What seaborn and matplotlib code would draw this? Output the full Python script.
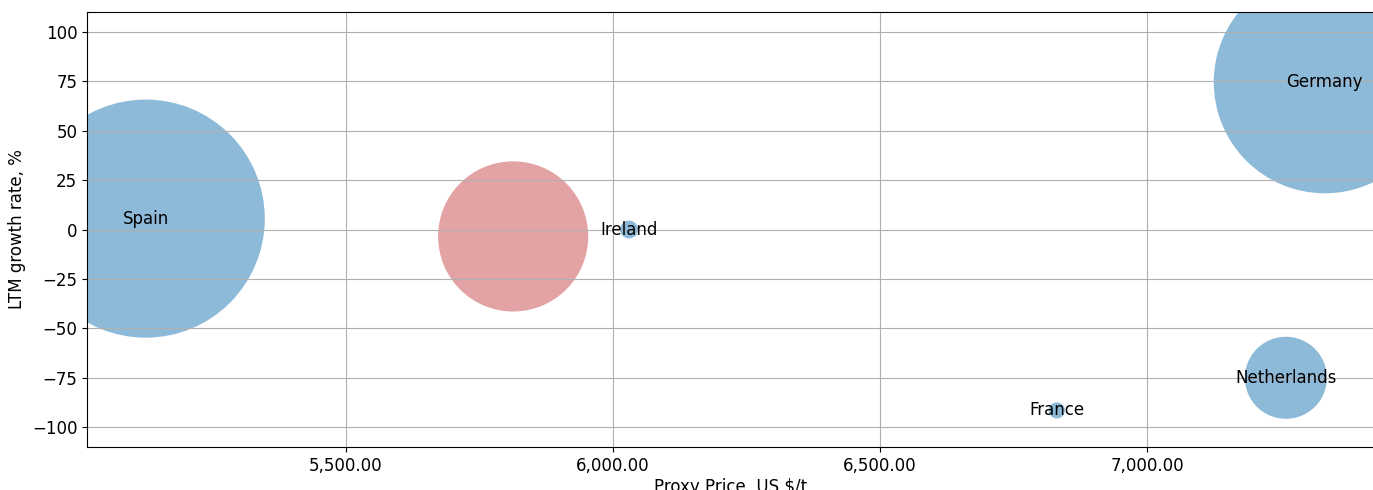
import matplotlib
matplotlib.use("Agg")
import matplotlib.pyplot as plt
import matplotlib.ticker as mticker
import seaborn as sns
import pandas as pd

# values
countries = ["Spain", "", "Ireland", "France", "Netherlands", "Germany"]
proxy_price = [5125, 5813, 6030, 6831, 7260, 7333]
growth_rate = [5.5, -3.5, 0.0, -91.5, -75.0, 74.5]
volume = [5660, 2250, 32, 26, 672, 4930]
group = ["partner", "focus", "partner", "partner", "partner", "partner"]

df = pd.DataFrame({
    "country": countries,
    "price": proxy_price,
    "growth": growth_rate,
    "volume": volume,
    "group": group,
})

fig = plt.figure(figsize=(13.73, 4.9), dpi=100)
ax = fig.add_axes([87 / 1373, 43 / 490, 1287 / 1373, 435 / 490])

sns.scatterplot(
    data=df, x="price", y="growth", hue="group", size="volume",
    palette={"partner": "#1f77b4", "focus": "#c9474a"},
    sizes=(0, 29400), size_norm=(0, 5660),
    alpha=0.5, linewidth=0, legend=False, ax=ax,
)

for _, row in df.iterrows():
    if row["country"]:
        ax.text(row["price"], row["growth"], row["country"],
                ha="center", va="center", fontsize=12)

ax.set_xlim(5015, 7425)
ax.set_ylim(-110, 110)
ax.set_xticks([5500, 6000, 6500, 7000])
ax.xaxis.set_major_formatter(mticker.FuncFormatter(lambda v, p: f"{v:,.2f}"))
ax.set_yticks(range(-100, 101, 25))
ax.tick_params(labelsize=12)
ax.grid(True, color="#b0b0b0", linewidth=0.8)
ax.set_xlabel("Proxy Price, US $/t", fontsize=12, labelpad=2)
ax.set_ylabel("LTM growth rate, %", fontsize=12)

fig.savefig("out.png", dpi=100)
